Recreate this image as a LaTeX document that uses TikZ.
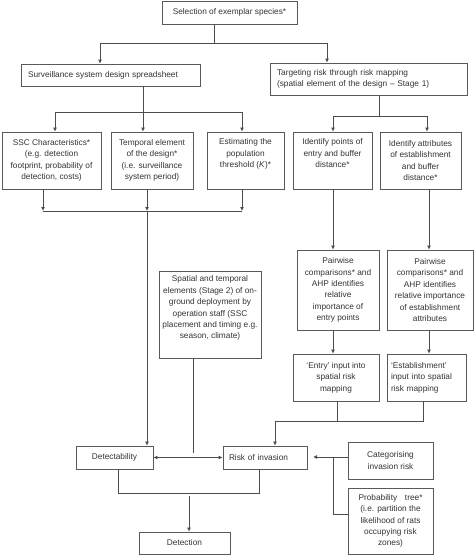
\documentclass[tikz,border=0pt]{standalone}
\usepackage{fontspec}
\setmainfont{Liberation Sans}
\usetikzlibrary{arrows.meta,positioning,calc}

\begin{document}
\begin{tikzpicture}[x=1pt, y=-1pt,
  font=\fontsize{8.3}{11.4}\selectfont,
  box/.style={draw=black!65, line width=0.8pt, text=black!80, inner xsep=2pt, inner ysep=1pt, align=center},
  ln/.style={draw=black!70, line width=0.8pt},
  arr/.style={ln, -{Latex[length=4pt,width=4pt]}}]
  \useasboundingbox (0,0) rectangle (474,557);

  \node (sel) [box, minimum width=135pt, minimum height=23pt] at (229.5,12.5) {Selection of exemplar species*};
  \node (surv) [box, minimum width=179pt, minimum height=22pt, inner xsep=7pt, text width=165pt, align=left] at (110.5,75) {Surveillance system design spreadsheet};
  \node (targ) [box, minimum width=197pt, minimum height=32pt, inner xsep=7pt, text width=183pt, align=left] at (368.5,79) {\makebox[151pt][s]{Targeting risk through risk mapping}\\(spatial element of the design -- Stage 1)};

  \node (ssc) [box, minimum width=99pt, minimum height=57pt] at (51.5,160.5) {SSC Characteristics*\\(e.g. detection\\footprint, probability of\\detection, costs)};
  \node (temp) [box, minimum width=82pt, minimum height=57pt] at (152,160.5) {Temporal element\\of the design*\\(i.e. surveillance\\system period)};
  \node (est) [box, minimum width=77pt, minimum height=57pt] at (245.5,160.5) {Estimating the\\population\\threshold (\textit{K})*\\\strut};
  \node (idp) [box, minimum width=79pt, minimum height=57pt] at (332.5,160.5) {Identify points of\\entry and buffer\\distance*\\\strut};
  \node (ida) [box, minimum width=81pt, minimum height=57pt] at (420.5,160.5) {Identify attributes\\of establishment\\and buffer\\distance*};

  \node (pw1) [box, minimum width=82pt, minimum height=80pt] at (338,290) {Pairwise\\comparisons* and\\AHP identifies\\relative\\importance of\\entry points};
  \node (pw2) [box, minimum width=86pt, minimum height=80pt] at (430,290) {Pairwise\\comparisons* and\\AHP identifies\\relative importance\\of establishment\\attributes};
  \node (spat) [box, minimum width=102pt, minimum height=87pt] at (210,314.5) {Spatial and temporal\\elements (Stage 2) of on-\\ground deployment by\\operation staff (SSC\\placement and timing e.g.\\season, climate)\\[3pt]};

  \node (ent) [box, minimum width=86pt, minimum height=47pt] at (336,377.5) {`Entry' input into\\spatial risk\\mapping};
  \node (estb) [box, minimum width=79pt, minimum height=47pt, inner xsep=4pt, text width=71pt, align=left] at (426.5,377.5) {`Establishment'\\\makebox[65pt][s]{input into spatial}\\risk mapping};

  \node (det) [box, minimum width=77pt, minimum height=23pt] at (114.5,457.5) {Detectability};
  \node (risk) [box, minimum width=84pt, minimum height=23pt, inner xsep=6pt, text width=72pt, align=left] at (265,457.5) {Risk of invasion};
  \node (cat) [box, minimum width=85pt, minimum height=37pt] at (390.5,460.5) {Categorising\\invasion risk};
  \node (prob) [box, minimum width=85pt, minimum height=66pt] at (390.5,521) {\makebox[64pt][s]{Probability tree*}\\(i.e. partition the\\likelihood of rats\\occupying risk\\zones)};
  \node (detn) [box, minimum width=91pt, minimum height=22pt] at (184.5,543) {Detection};

  \coordinate (j0) at (214,43);
  \coordinate (j0l) at (100,43);
  \coordinate (j0r) at (327,43);
  \draw[arr] (sel.south -| j0) -- (j0) -| (surv.north -| j0l);
  \draw[arr] (j0) -| (targ.north -| j0r);

  \coordinate (j1) at (143,112);
  \coordinate (j1l) at (55,112);
  \coordinate (j1r) at (242,112);
  \draw[arr] (surv.south -| j1) -- (j1) -| (ssc.north -| j1l);
  \draw[arr] (j1) -- (temp.north -| j1);
  \draw[arr] (j1) -| (est.north -| j1r);

  \coordinate (j2) at (379,116);
  \coordinate (j2l) at (333,116);
  \coordinate (j2r) at (427,116);
  \draw[arr] (targ.south -| j2) -- (j2) -| (idp.north -| j2l);
  \draw[arr] (j2) -| (ida.north -| j2r);

  \coordinate (j3) at (147,211);
  \coordinate (j3l) at (43,211);
  \coordinate (j3r) at (242,211);
  \draw[arr] (ssc.south -| j3l) -- (j3l);
  \draw[arr] (temp.south -| j3) -- (j3);
  \draw[arr] (est.south -| j3r) -- (j3r);
  \draw[ln] (j3l) -- (j3r);
  \draw[arr] (j3) -- (det.north -| j3);

  \coordinate (xa) at (333,0);
  \coordinate (xb) at (429,0);
  \draw[arr] (idp.south -| xa) -- (pw1.north -| xa);
  \draw[arr] (ida.south -| xb) -- (pw2.north -| xb);
  \draw[arr] (pw1.south -| xa) -- (ent.north -| xa);
  \draw[arr] (pw2.south -| xb) -- (estb.north -| xb);

  \coordinate (j4) at (275,421);
  \coordinate (j4a) at (337,421);
  \coordinate (j4b) at (423,421);
  \draw[ln] (ent.south -| j4a) -- (j4a);
  \draw[ln] (estb.south -| j4b) -- (j4b) -- (j4);
  \draw[arr] (j4) -- (risk.north -| j4);

  \draw[ln, {Latex[length=4pt,width=4pt]}-{Latex[length=4pt,width=4pt]}] (det) -- (risk);
  \coordinate (j5) at (193,453);
  \draw[ln] (spat.south -| j5) -- (j5);

  \coordinate (j6) at (333,457);
  \coordinate (j6e) at (313,457);
  \coordinate (j7) at (333,514);
  \draw[ln] (cat.west |- j6) -- (j6);
  \draw[ln] (prob.west |- j7) -- (j7) -- (j6);
  \draw[arr] (j6) -- (j6e);

  \coordinate (j8) at (118,493);
  \coordinate (j8r) at (259,493);
  \coordinate (j9) at (189,496);
  \draw[ln] (det.south -| j8) -- (j8) -- (j8r) -- (risk.south -| j8r);
  \draw[arr] (j9) -- (detn.north -| j9);
\end{tikzpicture}
\end{document}
